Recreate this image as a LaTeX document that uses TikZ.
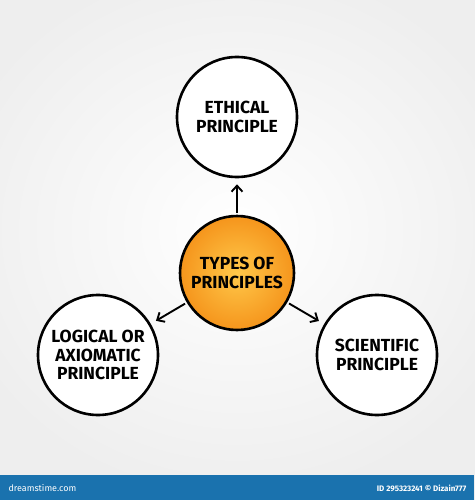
\documentclass[tikz,border=0pt]{standalone}
\usepackage{fontspec}
\setmainfont{Fira Sans}
\newfontfamily\handfont{Fira Sans}[UprightFont=* Bold]
\usetikzlibrary{arrows.meta}
\definecolor{bgout}{HTML}{EEEEEE}
\definecolor{orin}{HTML}{FFC84A}
\definecolor{orout}{HTML}{F5951C}
\definecolor{barblue}{HTML}{1A72AE}
\tikzset{
  bubble/.style={circle, draw=black, line width=2.6pt, fill=white, minimum size=120pt, inner sep=0pt, align=center, font=\handfont\fontsize{17.5}{18.5}\selectfont},
  hub/.style={bubble, minimum size=114pt, inner color=orin, outer color=orout},
  arr/.style={line width=1.9pt, -{Straight Barb[length=6pt,width=11pt,line width=1.9pt]}, shorten >=6pt, shorten <=2pt},
  wmtext/.style={text=white, font=\fontsize{9}{10}\selectfont}
}
\begin{document}
\begin{tikzpicture}[x=1pt,y=-1pt]
\useasboundingbox (0,0) rectangle (474,500);
\fill[bgout] (0,0) rectangle (474,475);
\shade[inner color=white, outer color=bgout] (-60,-40) rectangle (534,500);
\fill[barblue] (0,475) rectangle (474,500);
\node[wmtext, anchor=west] (site) at (5,488) {dreamstime.com};
\node[wmtext, anchor=east, font=\fontsize{8}{9}\selectfont\bfseries] (id) at (470,488) {ID 295323241 \textcopyright\ Dizain777};
\node[bubble] (eth) at (237,117) {ETHICAL\\PRINCIPLE};
\node[hub] (hubn) at (237,273) {TYPES OF\\PRINCIPLES};
\node[bubble] (log) at (98,355) {LOGICAL OR\\AXIOMATIC\\PRINCIPLE};
\node[bubble] (sci) at (377,355) {SCIENTIFIC\\PRINCIPLE};
\draw[arr] (hubn) -- (eth);
\draw[arr] (hubn) -- (log);
\draw[arr] (hubn) -- (sci);
\end{tikzpicture}
\end{document}
